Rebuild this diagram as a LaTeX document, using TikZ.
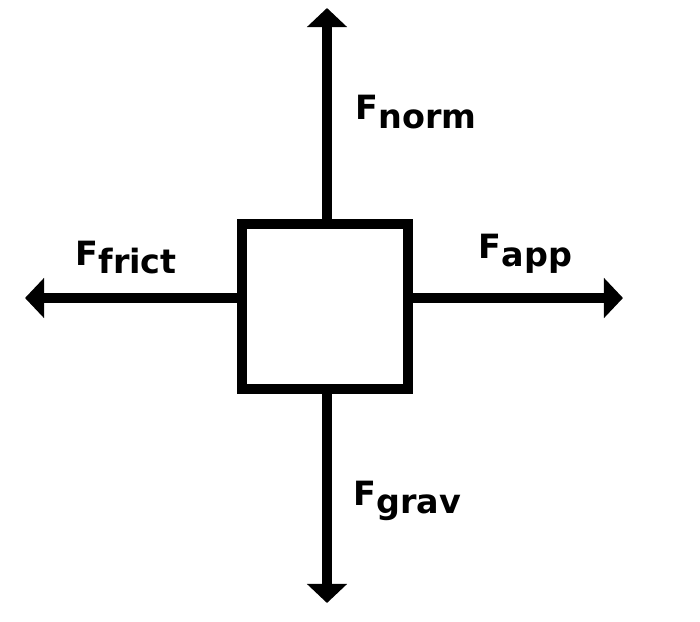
\documentclass[tikz,border=0pt]{standalone}
\usepackage{fontspec}
\setmainfont{DejaVu Sans}
\usetikzlibrary{arrows.meta,positioning}
\tikzstyle{block} = [draw=black, line width=1mm, minimum width=1.655cm, minimum height=1.65cm, inner sep=0pt]
\tikzstyle{force} = [line width=1mm, -{Triangle[width=3.9mm,length=1.9mm]}]
\tikzstyle{flabel} = [anchor=base west, inner sep=0pt, font=\fontsize{9.5}{11}\selectfont\bfseries]
\newcommand{\frc}[1]{F\raisebox{-2.3pt}{#1}}

\begin{document}
\begin{tikzpicture}[x=0.01cm, y=-0.01cm]
\useasboundingbox (0,0) rectangle (700,621);
\node[block] (box) at (325,306.5) {};
\coordinate (up) at (327,8);
\coordinate (down) at (327,603);
\coordinate (left) at (25,298);
\coordinate (right) at (623,298);
\draw[force] (up |- box.north) -- (up);
\draw[force] (down |- box.south) -- (down);
\draw[force] (box.west |- left) -- (left);
\draw[force] (box.east |- right) -- (right);
\node[flabel] (norm) at (355,120) {\frc{norm}};
\node[flabel] (frict) at (75,265) {\frc{frict}};
\node[flabel] (app) at (478,258) {\frc{app}};
\node[flabel] (grav) at (353,505) {\frc{grav}};
\end{tikzpicture}
\end{document}
